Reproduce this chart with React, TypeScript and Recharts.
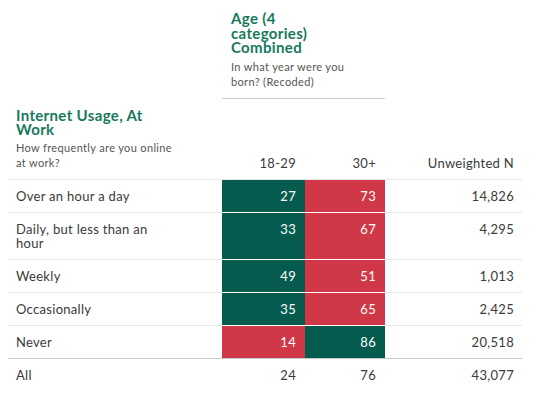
import React from "react";
import {
  ComposedChart,
  XAxis,
  YAxis,
  Scatter,
  ReferenceArea,
  ReferenceLine,
  Customized,
} from "recharts";

// ---------- data ----------
const categories = [
  "Over an hour a day",
  "Daily, but less than an hour",
  "Weekly",
  "Occasionally",
  "Never",
];
const age1829 = [27, 33, 49, 35, 14];
const age30plus = [73, 67, 51, 65, 86];
const unweightedN = [14826, 4295, 1013, 2425, 20518];
const totalLabel = "All";
const totalValues = [24, 76];
const totalN = 43077;
const columnLabels = ["18-29", "30+", "Unweighted N"];
const groupTitle = ["Age (4", "categories)", "Combined"];
const groupSubtitle = ["In what year were you", "born? (Recoded)"];
const rowTitle = ["Internet Usage, At", "Work"];
const rowSubtitle = ["How frequently are you online", "at work?"];

// ---------- layout / style ----------
const W = 538;
const H = 400;
const FONT = "Lato, 'Open Sans', sans-serif";
const GREEN = "#065b4f";
const RED = "#d13847";
const TITLE = "#17795c";
const TEXT = "#3a3a3a";
const SUB = "#555555";
const LINE = "#e6e6e6";
const LINE_STRONG = "#c8c8c8";
const COL_EDGES = [0, 214, 297, 377, 514];
const LABEL_X = 8;
const LINE_H = 14;
const MARGIN = { top: 179.5, right: 16, bottom: 8.5, left: 8 };
const LS_BODY = 0.3;
const LS_TITLE = 0.35;
const LS_SUB = 0.35;

const wrap = (text: string, maxChars: number): string[] => {
  const words = text.split(" ");
  const out: string[] = [];
  let cur = "";
  for (const w of words) {
    const next = cur ? cur + " " + w : w;
    if (next.length > maxChars && cur) {
      out.push(cur);
      cur = w;
    } else cur = next;
  }
  if (cur) out.push(cur);
  return out;
};

const fmt = (v: number) => v.toLocaleString("en-US");

type Row = {
  lines: string[];
  values: number[];
  n: number;
  total: boolean;
  top: number;
  bottom: number;
};

const rawRows = [
  ...categories.map((c, i) => ({
    lines: wrap(c, 23),
    values: [age1829[i], age30plus[i]],
    n: unweightedN[i],
    total: false,
  })),
  { lines: [totalLabel], values: totalValues, n: totalN, total: true },
];

let acc = 0;
const rows: Row[] = rawRows.map((r) => {
  const h = 19 + LINE_H * r.lines.length;
  const row = { ...r, top: acc, bottom: acc + h };
  acc += h;
  return row;
});
const TOTAL_H = acc;

type TextPt = {
  x: number;
  y: number;
  text: string;
  anchor: "start" | "end";
  fill: string;
};

const texts: TextPt[] = [];
rows.forEach((r) => {
  const base = r.top + 21.5;
  r.lines.forEach((l, k) =>
    texts.push({ x: LABEL_X, y: base + k * LINE_H, text: l, anchor: "start", fill: TEXT })
  );
  r.values.forEach((v, c) =>
    texts.push({
      x: COL_EDGES[c + 2] - 9,
      y: base,
      text: fmt(v),
      anchor: "end",
      fill: r.total ? TEXT : "#ffffff",
    })
  );
  texts.push({ x: COL_EDGES[4] - 8, y: base, text: fmt(r.n), anchor: "end", fill: TEXT });
});

const cells = rows
  .filter((r) => !r.total)
  .flatMap((r, ri) =>
    r.values.map((v, c) => ({
      key: `${ri}-${c}`,
      x1: COL_EDGES[c + 1],
      x2: COL_EDGES[c + 2],
      y1: r.top + 0.5,
      y2: r.bottom - 0.5,
      fill: v > totalValues[c] ? GREEN : RED,
    }))
  );

const bodyRows = rows.filter((r) => !r.total);
const boundaries = rows.map((r) => ({
  y: r.top,
  color: r.total ? LINE_STRONG : LINE,
}));
const interior = bodyRows.slice(1).map((r) => r.top);

const TextShape = (props: any) => {
  const p = props.payload as TextPt;
  return (
    <text
      x={props.cx}
      y={props.cy}
      textAnchor={p.anchor}
      fill={p.fill}
      fontSize={13}
      fontFamily={FONT}
      letterSpacing={LS_BODY}
    >
      {p.text}
    </text>
  );
};

const Header = () => (
  <g fontFamily={FONT}>
    {groupTitle.map((t, i) => (
      <text
        key={"gt" + i}
        x={231}
        y={24.3 + i * 14.5}
        fill={TITLE}
        fontSize={15}
        fontWeight={700}
        letterSpacing={LS_TITLE}
      >
        {t}
      </text>
    ))}
    {groupSubtitle.map((t, i) => (
      <text key={"gs" + i} x={231} y={71 + i * 15} fill={SUB} fontSize={11} letterSpacing={LS_SUB}>
        {t}
      </text>
    ))}
    <line x1={222} x2={385} y1={98.5} y2={98.5} stroke={LINE_STRONG} strokeWidth={1} />
    {rowTitle.map((t, i) => (
      <text
        key={"rt" + i}
        x={16}
        y={120.5 + i * 14.5}
        fill={TITLE}
        fontSize={15}
        fontWeight={700}
        letterSpacing={LS_TITLE}
      >
        {t}
      </text>
    ))}
    {rowSubtitle.map((t, i) => (
      <text key={"rs" + i} x={16} y={152 + i * 15} fill={SUB} fontSize={11} letterSpacing={LS_SUB}>
        {t}
      </text>
    ))}
    {columnLabels.map((t, i) => (
      <text
        key={"cl" + i}
        x={[296, 376, 514][i]}
        y={168}
        textAnchor="end"
        fill={TEXT}
        fontSize={13}
        letterSpacing={LS_BODY}
      >
        {t}
      </text>
    ))}
  </g>
);

export default function App() {
  return (
    <div style={{ position: "absolute", left: 0, top: 0, width: W, height: H, background: "#fff" }}>
      <ComposedChart width={W} height={H} margin={MARGIN}>
        <XAxis dataKey="x" type="number" domain={[0, COL_EDGES[4]]} hide allowDataOverflow />
        <YAxis dataKey="y" type="number" domain={[0, TOTAL_H]} reversed hide allowDataOverflow />
        <Customized component={<Header />} />
        {boundaries.map((b, i) => (
          <ReferenceLine
            key={"b" + i}
            y={b.y}
            stroke={b.color}
            strokeWidth={1}
            ifOverflow="visible"
          />
        ))}
        {cells.map((c) => (
          <ReferenceArea
            key={c.key}
            x1={c.x1}
            x2={c.x2}
            y1={c.y1}
            y2={c.y2}
            fill={c.fill}
            fillOpacity={1}
            stroke="none"
            ifOverflow="visible"
          />
        ))}
        {interior.map((y, i) => (
          <ReferenceLine
            key={"w" + i}
            segment={[
              { x: COL_EDGES[1], y },
              { x: COL_EDGES[3], y },
            ]}
            stroke="#ffffff"
            strokeWidth={1}
            ifOverflow="visible"
          />
        ))}
        <Scatter data={texts} shape={TextShape} isAnimationActive={false} legendType="none" />
      </ComposedChart>
    </div>
  );
}
